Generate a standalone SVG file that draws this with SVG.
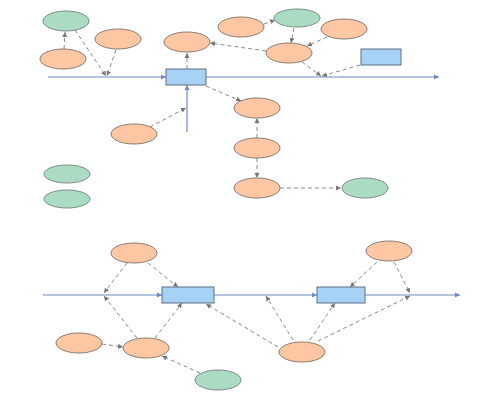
<svg xmlns="http://www.w3.org/2000/svg" width="500" height="400" viewBox="0 0 500 400">
<style>
.o{fill:#FCC7A2;stroke:#8C7B6E;stroke-width:1}
.g{fill:#A9DCC3;stroke:#7C8C84;stroke-width:1}
.r{fill:#A6D2F6;stroke:#5E6E84;stroke-width:1}
.s{stroke:#6E88C2;stroke-width:1.2;fill:none;marker-end:url(#ab)}
.d{stroke:#8A8A8A;stroke-width:1;stroke-dasharray:4,3;fill:none;marker-end:url(#ag)}
</style>
<defs>
<marker id="ab" markerWidth="6" markerHeight="6" refX="5" refY="3" orient="auto" markerUnits="userSpaceOnUse"><path d="M0,0.5 L5,3 L0,5.5 z" fill="#6E88C2"/></marker>
<marker id="ag" markerWidth="6" markerHeight="6" refX="5" refY="3" orient="auto" markerUnits="userSpaceOnUse"><path d="M0,0.5 L5,3 L0,5.5 z" fill="#777"/></marker>
</defs>
<rect width="500" height="400" fill="#fff"/>
<g id="connectors">
<line class="s" x1="48" y1="77" x2="166" y2="77"/>
<line class="s" x1="206" y1="77" x2="439" y2="77"/>
<line class="s" x1="187" y1="132" x2="187" y2="85"/>
<line class="d" x1="64" y1="49" x2="65" y2="32"/>
<line class="d" x1="75" y1="30" x2="106" y2="76"/>
<line class="d" x1="116" y1="50" x2="107" y2="76"/>
<line class="d" x1="187" y1="69" x2="187" y2="53"/>
<line class="d" x1="206" y1="86" x2="241" y2="101"/>
<line class="d" x1="150" y1="127" x2="186" y2="108"/>
<line class="d" x1="264" y1="24" x2="275" y2="20"/>
<line class="d" x1="294" y1="28" x2="291" y2="43"/>
<line class="d" x1="327" y1="37" x2="307" y2="46"/>
<line class="d" x1="266" y1="51" x2="210" y2="43"/>
<line class="d" x1="302" y1="62" x2="321" y2="76"/>
<line class="d" x1="360" y1="65" x2="322" y2="76"/>
<line class="d" x1="257" y1="138" x2="257" y2="118"/>
<line class="d" x1="257" y1="158" x2="257" y2="178"/>
<line class="d" x1="280" y1="188" x2="341" y2="188"/>
<line class="s" x1="43" y1="295" x2="162" y2="295"/>
<line class="s" x1="214" y1="295" x2="317" y2="295"/>
<line class="s" x1="365" y1="295" x2="460" y2="295"/>
<line class="d" x1="127" y1="263" x2="104" y2="293"/>
<line class="d" x1="137" y1="338" x2="104" y2="296"/>
<line class="d" x1="148" y1="263" x2="178" y2="287"/>
<line class="d" x1="155" y1="338" x2="182" y2="303"/>
<line class="d" x1="102" y1="344" x2="123" y2="347"/>
<line class="d" x1="200" y1="373" x2="162" y2="356"/>
<line class="d" x1="278" y1="347" x2="206" y2="304"/>
<line class="d" x1="293" y1="340" x2="266" y2="296"/>
<line class="d" x1="318" y1="341" x2="410" y2="296"/>
<line class="d" x1="394" y1="262" x2="410" y2="293"/>
<line class="d" x1="377" y1="262" x2="350" y2="287"/>
<line class="d" x1="310" y1="340" x2="335" y2="303"/>
</g>
<g id="n1"><ellipse class="g" cx="66" cy="21" rx="23" ry="10"/></g>
<g id="n2"><ellipse class="o" cx="63" cy="59" rx="23" ry="10"/></g>
<g id="n3"><ellipse class="o" cx="118" cy="39" rx="23" ry="10"/></g>
<g id="n4"><ellipse class="o" cx="187" cy="42" rx="23" ry="10"/></g>
<g id="n5"><rect class="r" x="166" y="69" width="40" height="16"/></g>
<g id="n6"><ellipse class="o" cx="134" cy="134" rx="23" ry="10"/></g>
<g id="n7"><ellipse class="o" cx="241" cy="27" rx="23" ry="10"/></g>
<g id="n8"><ellipse class="g" cx="297" cy="18" rx="23" ry="9"/></g>
<g id="n9"><ellipse class="o" cx="344" cy="29" rx="23" ry="10"/></g>
<g id="n10"><ellipse class="o" cx="289" cy="53" rx="23" ry="10"/></g>
<g id="n11"><rect class="r" x="361" y="49" width="40" height="16"/></g>
<g id="n12"><ellipse class="o" cx="257" cy="108" rx="23" ry="10"/></g>
<g id="n13"><ellipse class="o" cx="257" cy="148" rx="23" ry="10"/></g>
<g id="n14"><ellipse class="o" cx="257" cy="188" rx="23" ry="10"/></g>
<g id="n15"><ellipse class="g" cx="365" cy="188" rx="23" ry="10"/></g>
<g id="n16"><ellipse class="g" cx="67" cy="174" rx="23" ry="9"/></g>
<g id="n17"><ellipse class="g" cx="67" cy="199" rx="23" ry="9"/></g>
<g id="n18"><ellipse class="o" cx="134" cy="253" rx="23" ry="10"/></g>
<g id="n19"><rect class="r" x="162" y="287" width="52" height="16"/></g>
<g id="n20"><ellipse class="o" cx="79" cy="343" rx="23" ry="10"/></g>
<g id="n21"><ellipse class="o" cx="146" cy="348" rx="23" ry="10"/></g>
<g id="n22"><ellipse class="g" cx="218" cy="380" rx="23" ry="10"/></g>
<g id="n23"><rect class="r" x="317" y="287" width="48" height="16"/></g>
<g id="n24"><ellipse class="o" cx="389" cy="251" rx="23" ry="10"/></g>
<g id="n25"><ellipse class="o" cx="302" cy="352" rx="23" ry="10"/></g>
</svg>
